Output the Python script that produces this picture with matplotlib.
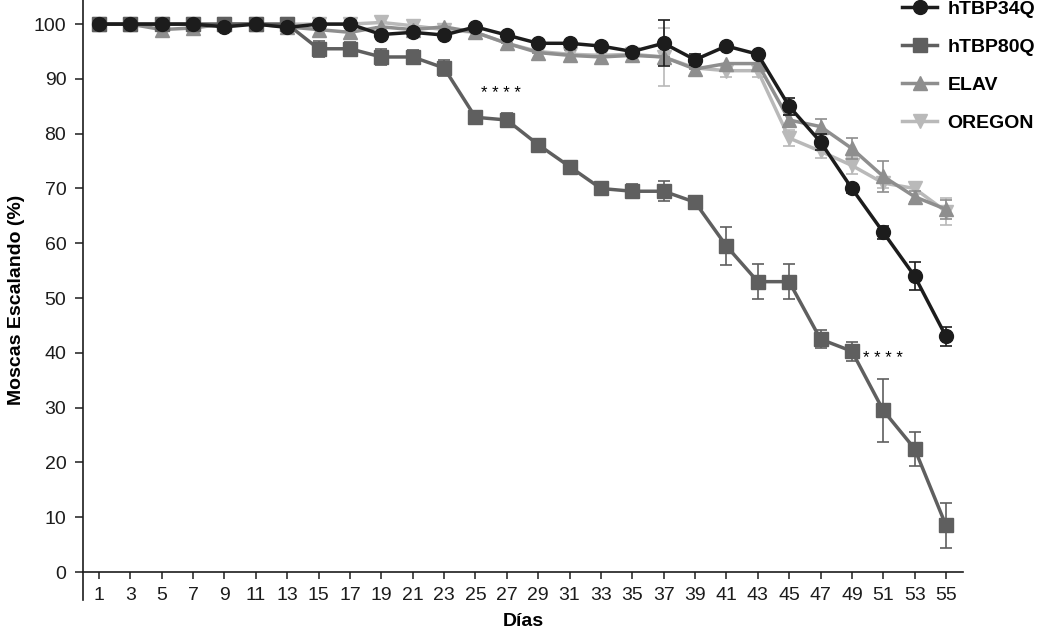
import matplotlib
matplotlib.use("Agg")
import matplotlib.pyplot as plt

plt.rcParams['font.family'] = ['Liberation Sans', 'DejaVu Sans']

## data
days = [1, 3, 5, 7, 9, 11, 13, 15, 17, 19, 21, 23, 25, 27,
        29, 31, 33, 35, 37, 39, 41, 43, 45, 47, 49, 51, 53, 55]

h34 = [100, 100, 100, 100, 99.5, 100, 99.4, 100, 100, 98.1, 98.5, 98, 99.5, 98,
       96.5, 96.5, 96, 95, 96.5, 93.5, 96, 94.5, 85, 78.5, 70, 62, 54, 43]
h34_err = [0, 0, 0, 0, 0, 0, 0, 0, 0, 0, 0, 0, 0, 0,
           0, 0, 0, 0, 4.2, 1, 0, 0, 1.5, 1.5, 0.8, 1.2, 2.5, 1.7]

h80 = [100, 100, 100, 100, 100, 100, 100, 95.5, 95.5, 94, 94, 92, 83, 82.5,
       78, 74, 70, 69.5, 69.5, 67.5, 59.5, 53, 53, 42.5, 40.3, 29.5, 22.5, 8.5]
h80_err = [0, 0, 0, 0, 0, 0, 0, 1.5, 1.2, 1.5, 1.2, 1.5, 1, 1.3,
           0.8, 0.5, 1.2, 1.3, 1.8, 1, 3.4, 3.2, 3.2, 1.6, 1.7, 5.8, 3.1, 4.1]

elav = [100, 100, 99, 99.3, 100, 100, 99.5, 99, 98.5, 99.5, 99, 99.5, 98.5, 96.5,
        94.8, 94.3, 94, 94.3, 94, 91.8, 92.8, 92.8, 82.5, 81.3, 77.3, 72.2, 68.5, 66.2]
elav_err = [0, 0, 0, 0, 0, 0, 0, 0, 0, 0, 0, 0, 0, 0,
            0, 1, 0, 0, 0, 0, 0, 0, 1, 1.3, 2, 2.9, 1, 1.7]

oregon = [100, 100, 100, 100, 100, 100, 100, 100, 100, 100.3, 99.7, 99, 98.5, 96.5,
          95, 94.5, 94.3, 94.5, 94, 92, 91.5, 91.5, 79.2, 76.8, 74.2, 71, 70, 65.8]
oregon_err = [0, 0, 0, 0, 0, 0, 0, 0, 0, 0, 0, 0, 0, 0,
              0, 0, 0, 0, 5.3, 0, 1.2, 1.2, 1.5, 1.2, 1.5, 1, 1, 2.4]

labels = ['hTBP34Q', 'hTBP80Q', 'ELAV', 'OREGON']
colors = ['#1c1c1c', '#5f5f5f', '#8e8e8e', '#b9b9b9']

fig = plt.figure(figsize=(10.37, 6.34), dpi=100)
ax = fig.add_axes([0.080, 0.0536, 0.8486, 0.9464])

series = [(h34, h34_err, 'o'), (h80, h80_err, 's'), (elav, elav_err, '^'), (oregon, oregon_err, 'v')]
handles = [None] * 4
# draw lightest first so black ends on top
for i in [3, 2, 1, 0]:
    y, e, mk = series[i]
    h = ax.errorbar(days, y, yerr=e, color=colors[i], marker=mk, markersize=10,
                    linewidth=2.5, elinewidth=1.2, capsize=4.5, capthick=1.2,
                    zorder=2 + (3 - i))
    handles[i] = h[0]

ax.text(26.6, 87.4, '* * * *', fontsize=12, ha='center', va='center')
ax.text(51.0, 39.0, '* * * *', fontsize=12, ha='center', va='center')

ax.set_xlim(-0.02, 56.08)
ax.set_ylim(-5.1, 104.4)
ax.set_xticks(days)
ax.set_xticklabels([str(d) for d in days])
ax.set_yticks(range(0, 101, 10))

ax.spines['top'].set_visible(False)
ax.spines['right'].set_visible(False)
ax.spines['bottom'].set_position(('data', 0))
for s in ['left', 'bottom']:
    ax.spines[s].set_linewidth(1.2)
    ax.spines[s].set_color('#1c1c1c')

ax.tick_params(axis='y', direction='out', length=6, width=1.1, labelsize=14,
               colors='#1c1c1c', pad=6)
ax.tick_params(axis='x', direction='out', length=5, width=1.1, labelsize=14,
               colors='#1c1c1c', pad=6)

ax.set_xlabel('Días', fontsize=14, fontweight='bold', labelpad=6)
ax.set_ylabel('Moscas Escalando (%)', fontsize=14, fontweight='bold', labelpad=6)

ax.legend(handles=handles, labels=labels, loc='upper left',
          bbox_to_anchor=(902 / 1037, 1.0), bbox_transform=fig.transFigure,
          frameon=False, borderaxespad=0, borderpad=0.0, handlelength=1.8,
          handletextpad=0.55, labelspacing=1.05,
          prop={'weight': 'bold', 'size': 14})

fig.savefig('out.png', dpi=100)
